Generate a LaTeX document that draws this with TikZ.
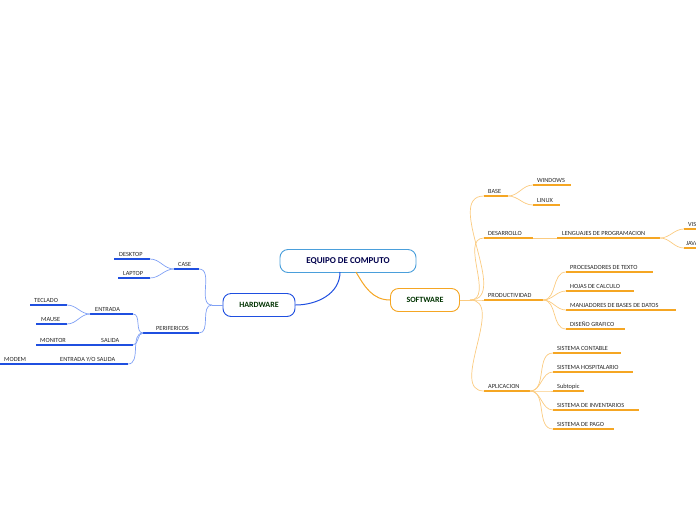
\documentclass[tikz,border=0pt]{standalone}
\usepackage{fontspec}
\setmainfont{Carlito}
\definecolor{bline}{HTML}{1F4FE0}
\definecolor{bcurve}{HTML}{7FA0F5}
\definecolor{oline}{HTML}{F5A623}
\definecolor{ocurve}{HTML}{FBCB80}
\definecolor{rootb}{HTML}{4A9FDB}
\begin{document}
\begin{tikzpicture}[x=1pt,y=-1pt,
  lbl/.style={font=\fontsize{6.3}{7}\selectfont, inner sep=0pt, anchor=base west, text=black!85},
  mainbox/.style={rounded corners=8pt, line width=0.9pt, fill=white, font=\bfseries\fontsize{8}{9}\selectfont, text=green!20!black}]
\useasboundingbox (0,0) rectangle (696,520);
\newcommand{\tpc}[7]{%
  \coordinate (#1-l) at (#2,#4); \coordinate (#1-r) at (#3,#4);
  \draw[draw=#7, line width=1.1pt] (#1-l) -- (#1-r);
  \node[lbl] (#1) at (#5,#4-3) {#6};}
\node[mainbox, draw=rootb, minimum width=136pt, minimum height=23pt, text=blue!30!black, font=\bfseries\fontsize{9}{10}\selectfont] (root) at (348,261) {EQUIPO DE COMPUTO};
\node[mainbox, draw=bline, minimum width=72pt, minimum height=23pt] (hw) at (259,305) {HARDWARE};
\node[mainbox, draw=oline, minimum width=69pt, minimum height=23pt] (sw) at (425,300) {SOFTWARE};
\draw[bline, line width=1pt] (340,272) to[out=-90,in=0] (hw.east);
\draw[oline, line width=1pt] (356,272) to[out=-60,in=180] (sw.west);
% software
\tpc{base}{484}{508}{196}{488}{BASE}{oline}
\tpc{win}{533}{571}{185}{537}{WINDOWS}{oline}
\tpc{lin}{533}{560}{205}{537}{LINUX}{oline}
\tpc{des}{484}{533}{238}{488}{DESARROLLO}{oline}
\tpc{len}{557}{660}{238}{562}{LENGUAJES DE PROGRAMACION}{oline}
\tpc{vis}{684}{700}{229}{688}{VISUAL}{oline}
\tpc{jav}{684}{700}{248}{686}{JAVA}{oline}
\tpc{pro}{484}{543}{300}{488}{PRODUCTIVIDAD}{oline}
\tpc{pt}{566}{653}{272}{570}{PROCESADORES DE TEXTO}{oline}
\tpc{hc}{566}{634}{291}{570}{HOJAS DE CALCULO}{oline}
\tpc{mb}{566}{676}{310}{570}{MANJADORES DE BASES DE DATOS}{oline}
\tpc{dg}{566}{625}{329}{570}{DISEÑO GRAFICO}{oline}
\tpc{apl}{484}{530}{391}{488}{APLICACION}{oline}
\tpc{sc}{553}{621}{353}{557}{SISTEMA CONTABLE}{oline}
\tpc{sh}{553}{633}{372}{557}{SISTEMA HOSPITALARIO}{oline}
\tpc{st}{553}{584}{391}{557}{Subtopic}{oline}
\tpc{si}{553}{639}{410}{557}{SISTEMA DE INVENTARIOS}{oline}
\tpc{sp}{553}{614}{429}{557}{SISTEMA DE PAGO}{oline}
\tikzset{oc/.style={draw=ocurve, line width=0.7pt}, bc/.style={draw=bcurve, line width=0.7pt}}
\draw[oc] (sw.east) -- (470,300);
\foreach \c in {base,des,pro,apl} \draw[oc] (470,300) to[out=0,in=180] (\c-l);
\foreach \c in {win,lin} \draw[oc] (base-r) to[out=0,in=180] (\c-l);
\draw[oc] (des-r) -- (len-l);
\foreach \c in {vis,jav} \draw[oc] (len-r) to[out=0,in=180] (\c-l);
\foreach \c in {pt,hc,mb,dg} \draw[oc] (pro-r) to[out=0,in=180] (\c-l);
\foreach \c in {sc,sh,st,si,sp} \draw[oc] (apl-r) to[out=0,in=180] (\c-l);
% hardware
\tpc{case}{174}{199}{269}{178}{CASE}{bline}
\tpc{dsk}{114}{150}{259}{119}{DESKTOP}{bline}
\tpc{lap}{118}{150}{278}{123}{LAPTOP}{bline}
\tpc{per}{143}{199}{333}{156}{PERIFERICOS}{bline}
\tpc{ent}{90}{133}{314}{95}{ENTRADA}{bline}
\tpc{tec}{30}{67}{305}{34}{TECLADO}{bline}
\tpc{mau}{36}{67}{324}{41}{MAUSE}{bline}
\tpc{sal}{97}{133}{345}{101}{SALIDA}{bline}
\tpc{mon}{36}{97}{345}{40}{MONITOR}{bline}
\tpc{eys}{55}{128}{364}{60}{ENTRADA Y/O SALIDA}{bline}
\tpc{mod}{0}{55}{364}{4}{MODEM}{bline}
\draw[bc] (hw.west) -- (212,305);
\foreach \c in {case,per} \draw[bc] (212,305) to[out=180,in=0] (\c-r);
\foreach \c in {dsk,lap} \draw[bc] (case-l) to[out=180,in=0] (\c-r);
\foreach \c in {ent,sal,eys} \draw[bc] (per-l) to[out=180,in=0] (\c-r);
\foreach \c in {tec,mau} \draw[bc] (ent-l) to[out=180,in=0] (\c-r);
\end{tikzpicture}
\end{document}
